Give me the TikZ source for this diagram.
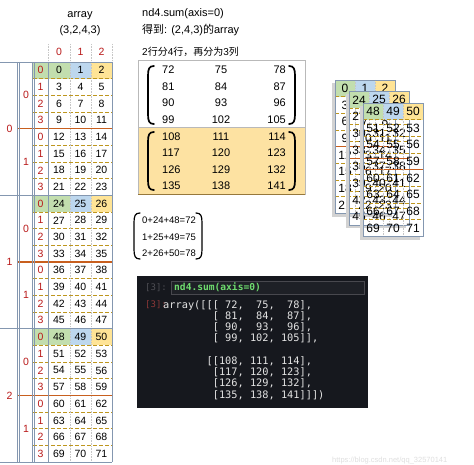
\documentclass[tikz,border=0pt]{standalone}
\usepackage{fontspec}
\setmainfont{Liberation Sans}
\newfontfamily\cjk{Noto Sans CJK SC}
\newfontfamily\codefont{DejaVu Sans Mono}
\usepackage{xcolor}
\usepackage{tikz}

\definecolor{cellgreen}{RGB}{194,222,174}
\definecolor{cellblue}{RGB}{189,215,238}
\definecolor{cellyellow}{RGB}{255,228,150}
\definecolor{idxred}{RGB}{185,25,25}
\definecolor{sepline}{RGB}{200,95,30}
\definecolor{rowline}{RGB}{190,150,30}
\definecolor{frameblue}{RGB}{132,151,176}
\definecolor{boxyellow}{RGB}{253,226,162}
\definecolor{boxline}{RGB}{150,120,60}
\definecolor{codebg}{RGB}{22,24,30}
\definecolor{codecell}{RGB}{30,32,38}
\definecolor{codeedge}{RGB}{72,72,78}
\definecolor{codegreen}{RGB}{110,220,110}
\definecolor{codetext}{RGB}{228,228,228}
\definecolor{promptgray}{RGB}{78,78,84}
\definecolor{promptred}{RGB}{140,55,55}

\tikzset{
  num/.style={inner sep=0pt, font=\fontsize{10.5}{12}\selectfont},
  idx/.style={num, text=idxred},
  bignum/.style={inner sep=0pt, font=\fontsize{12}{14}\selectfont},
  matnum/.style={inner sep=0pt, font=\fontsize{11}{13}\selectfont},
  txt/.style={inner sep=0pt, anchor=base west, font=\fontsize{11}{13}\selectfont},
  frame/.style={draw=frameblue, line width=0.9pt},
  rowsep/.style={draw=rowline, dash pattern=on 4pt off 2pt, line width=1pt},
  blocksep/.style={draw=sepline, line width=1.4pt},
  colsep/.style={draw=gray!45, densely dotted, line width=0.6pt},
  paren/.style={line width=1.7pt, line cap=round},
  codeout/.style={anchor=north west, inner sep=0pt, align=left, text=codetext,
    font=\codefont\fontsize{10.3}{11.25}\selectfont},
}

% one row of the left table: row, index, three values
\newcommand{\arow}[5]{%
  \node[idx] (i#1) at (40.5,{62+(#1+0.5)*16.67}) {#2};
  \node[num] (a#1) at (59,{62+(#1+0.5)*16.67}) {#3};
  \node[num] (b#1) at (80.5,{62+(#1+0.5)*16.67}) {#4};
  \node[num] (c#1) at (101.5,{62+(#1+0.5)*16.67}) {#5};}
\newcommand{\hilite}[1]{%
  \fill[cellgreen] (33,{62+#1*16.67}) rectangle (70,{62+(#1+1)*16.67});
  \fill[cellblue] (70,{62+#1*16.67}) rectangle (91,{62+(#1+1)*16.67});
  \fill[cellyellow] (91,{62+#1*16.67}) rectangle (112,{62+(#1+1)*16.67});}
\newcommand{\subblock}[1]{%
  \draw[rowsep] (33,{62+(#1+1)*16.67}) -- (112,{62+(#1+1)*16.67});
  \draw[rowsep] (33,{62+(#1+2)*16.67}) -- (112,{62+(#1+2)*16.67});
  \draw[rowsep] (33,{62+(#1+3)*16.67}) -- (112,{62+(#1+3)*16.67});}
% matrix row: name, y, three values
\newcommand{\mrow}[5]{%
  \node[matnum, anchor=west] (#1a) at (162,#2) {#3};
  \node[matnum] (#1b) at (221,#2) {#4};
  \node[matnum, anchor=east] (#1c) at (286,#2) {#5};}
\newcommand{\lpar}[3]{\draw[paren] ({#1+6},#2) .. controls ({#1+1},#2) and (#1,{#2+3}) .. (#1,{#2+10}) -- (#1,{#3-10}) .. controls (#1,{#3-3}) and ({#1+1},#3) .. ({#1+6},#3);}
\newcommand{\rpar}[3]{\draw[paren] ({#1-6},#2) .. controls ({#1-1},#2) and (#1,{#2+3}) .. (#1,{#2+10}) -- (#1,{#3-10}) .. controls (#1,{#3-3}) and ({#1-1},#3) .. ({#1-6},#3);}
% stacked table: x, y of its top left corner
\newcommand{\stable}[2]{%
  \fill[gray!35] ({#1-3},{#2+3}) rectangle (#1,{#2+136.6});
  \fill[gray!35] ({#1-3},{#2+133.6}) rectangle ({#1+57},{#2+136.6});
  \fill[cellgreen] (#1,#2) rectangle ({#1+20},{#2+16.7});
  \fill[cellblue] ({#1+20},#2) rectangle ({#1+40},{#2+16.7});
  \fill[cellyellow] ({#1+40},#2) rectangle ({#1+60},{#2+16.7});
  \draw[rowsep] (#1,{#2+16.7}) -- ({#1+60},{#2+16.7});
  \draw[rowsep] (#1,{#2+33.4}) -- ({#1+60},{#2+33.4});
  \draw[rowsep] (#1,{#2+50.1}) -- ({#1+60},{#2+50.1});
  \draw[rowsep] (#1,{#2+83.5}) -- ({#1+60},{#2+83.5});
  \draw[rowsep] (#1,{#2+100.2}) -- ({#1+60},{#2+100.2});
  \draw[rowsep] (#1,{#2+116.9}) -- ({#1+60},{#2+116.9});
  \draw[blocksep] (#1,{#2+66.8}) -- ({#1+60},{#2+66.8});
  \draw[colsep] ({#1+20},#2) -- ({#1+20},{#2+133.6});
  \draw[colsep] ({#1+40},#2) -- ({#1+40},{#2+133.6});
  \draw[frame] (#1,#2) rectangle ({#1+60},{#2+133.6});}
% stacked table row: name, x, y, row, three values
\newcommand{\srow}[7]{%
  \node[bignum] (#1r#4a) at ({#2+10},{#3+(#4+0.5)*16.7}) {#5};
  \node[bignum] (#1r#4b) at ({#2+30},{#3+(#4+0.5)*16.7}) {#6};
  \node[bignum] (#1r#4c) at ({#2+50},{#3+(#4+0.5)*16.7}) {#7};}

\begin{document}
\begin{tikzpicture}[x=1pt,y=-1pt]
\useasboundingbox (0,0) rectangle (474,465);
\fill[white] (0,0) rectangle (474,465);

% left table
\node[txt, anchor=base] (ttl) at (80,18) {array};
\node[txt, anchor=base] (shp) at (80,34) {(3,2,4,3)};
\draw[colsep] (48,44) -- (48,62);
\draw[colsep] (70,44) -- (70,62);
\draw[colsep] (91,44) -- (91,62);
\draw[colsep] (112,44) -- (112,62);
\node[idx] (h0) at (59,52) {0};
\node[idx] (h1) at (80.5,52) {1};
\node[idx] (h2) at (101.5,52) {2};

\hilite{0}
\hilite{8}
\hilite{16}
\subblock{0}
\subblock{4}
\subblock{8}
\subblock{12}
\subblock{16}
\subblock{20}
\draw[colsep] (70,62) -- (70,462);
\draw[colsep] (91,62) -- (91,462);
\draw[blocksep] (17,128.68) -- (112,128.68);
\draw[blocksep] (17,262.04) -- (112,262.04);
\draw[blocksep] (17,395.4) -- (112,395.4);
\draw[frame] (0,62) -- (112,62);
\draw[frame] (0,195.36) -- (112,195.36);
\draw[frame] (0,328.72) -- (112,328.72);
\draw[frame] (0,462) -- (112,462);
\draw[frame] (17,62) -- (17,462);
\draw[frame] (19.5,62) -- (19.5,462);
\draw[frame] (32,62) -- (32,462);
\draw[frame] (34,62) -- (34,462);
\draw[frame] (48,62) -- (48,462);
\draw[frame] (112,62) -- (112,462);

\node[idx] (ax0) at (9.5,128.68) {0};
\node[idx] (ax1) at (9.5,262.04) {1};
\node[idx] (ax2) at (9.5,395.4) {2};
\node[idx] (bx0) at (26,95.34) {0};
\node[idx] (bx1) at (26,162.02) {1};
\node[idx] (bx2) at (26,228.7) {0};
\node[idx] (bx3) at (26,295.38) {1};
\node[idx] (bx4) at (26,362.06) {0};
\node[idx] (bx5) at (26,428.74) {1};

\arow{0}{0}{0}{1}{2}
\arow{1}{1}{3}{4}{5}
\arow{2}{2}{6}{7}{8}
\arow{3}{3}{9}{10}{11}
\arow{4}{0}{12}{13}{14}
\arow{5}{1}{15}{16}{17}
\arow{6}{2}{18}{19}{20}
\arow{7}{3}{21}{22}{23}
\arow{8}{0}{24}{25}{26}
\arow{9}{1}{27}{28}{29}
\arow{10}{2}{30}{31}{32}
\arow{11}{3}{33}{34}{35}
\arow{12}{0}{36}{37}{38}
\arow{13}{1}{39}{40}{41}
\arow{14}{2}{42}{43}{44}
\arow{15}{3}{45}{46}{47}
\arow{16}{0}{48}{49}{50}
\arow{17}{1}{51}{52}{53}
\arow{18}{2}{54}{55}{56}
\arow{19}{3}{57}{58}{59}
\arow{20}{0}{60}{61}{62}
\arow{21}{1}{63}{64}{65}
\arow{22}{2}{66}{67}{68}
\arow{23}{3}{69}{70}{71}

% result matrix
\node[txt] (cmd) at (142,17) {nd4.sum(axis=0)};
\node[txt] (res) at (142,34) {{\cjk 得到}: (2,4,3){\cjk 的}array};
\node[txt, font=\fontsize{10}{12}\selectfont] (note) at (142,56) {2{\cjk 行分}4{\cjk 行，再分为}3{\cjk 列}};
\draw[draw=gray!55, line width=1pt] (138,61) rectangle (305,128);
\filldraw[fill=boxyellow, draw=gray!55, line width=1pt] (138,128) rectangle (305,195);
\draw[boxline, line width=1pt] (138,195) -- (305,195);
\mrow{m0}{70}{72}{75}{78}
\mrow{m1}{86.5}{81}{84}{87}
\mrow{m2}{103}{90}{93}{96}
\mrow{m3}{119.5}{99}{102}{105}
\mrow{m4}{136.5}{108}{111}{114}
\mrow{m5}{153}{117}{120}{123}
\mrow{m6}{169.5}{126}{129}{132}
\mrow{m7}{186}{135}{138}{141}
\lpar{148}{66}{124}
\rpar{295}{66}{124}
\lpar{148}{132}{190}
\rpar{295}{132}{190}

% the sums
\node[txt, anchor=west, font=\fontsize{9.5}{11}\selectfont] (s0) at (142,220) {0+24+48=72};
\node[txt, anchor=west, font=\fontsize{9.5}{11}\selectfont] (s1) at (142,237) {1+25+49=75};
\node[txt, anchor=west, font=\fontsize{9.5}{11}\selectfont] (s2) at (142,253) {2+26+50=78};
\begin{scope}[paren/.style={line width=1.2pt, line cap=round}]
\lpar{134}{213}{259}
\rpar{202}{213}{259}
\end{scope}

% notebook cell
\fill[codebg] (137,276) rectangle (368,408);
\filldraw[fill=codecell, draw=codeedge, line width=0.8pt] (171,281) rectangle (364,294);
\node[anchor=west, inner sep=0pt, text=promptgray, font=\codefont\fontsize{9}{11}\selectfont] (pin) at (145,287.5) {[3]:};
\node[anchor=west, inner sep=0pt, text=codegreen, font=\codefont\bfseries\fontsize{9.6}{11}\selectfont] (cin) at (174,287.5) {nd4.sum(axis=0)};
\node[anchor=west, inner sep=0pt, text=promptred, font=\codefont\fontsize{9}{11}\selectfont] (pout) at (145,305) {[3]:};
\node[codeout] (cout) at (163,300) {array([[[~72,~~75,~~78],\\
\hphantom{array([[}[~81,~~84,~~87],\\
\hphantom{array([[}[~90,~~93,~~96],\\
\hphantom{array([[}[~99,~102,~105]],\\
\mbox{}\\
\hphantom{array([}[[108,~111,~114],\\
\hphantom{array([[}[117,~120,~123],\\
\hphantom{array([[}[126,~129,~132],\\
\hphantom{array([[}[135,~138,~141]]])};

% stacked tables
\stable{335}{80}
\srow{t}{335}{80}{0}{0}{1}{2}
\srow{t}{335}{80}{1}{3}{4}{5}
\srow{t}{335}{80}{2}{6}{7}{8}
\srow{t}{335}{80}{3}{9}{10}{11}
\srow{t}{335}{80}{4}{12}{13}{14}
\srow{t}{335}{80}{5}{15}{16}{17}
\srow{t}{335}{80}{6}{18}{19}{20}
\srow{t}{335}{80}{7}{21}{22}{23}
\stable{349}{91.5}
\srow{u}{349}{91.5}{0}{24}{25}{26}
\srow{u}{349}{91.5}{1}{27}{28}{29}
\srow{u}{349}{91.5}{2}{30}{31}{32}
\srow{u}{349}{91.5}{3}{33}{34}{35}
\srow{u}{349}{91.5}{4}{36}{37}{38}
\srow{u}{349}{91.5}{5}{39}{40}{41}
\srow{u}{349}{91.5}{6}{42}{43}{44}
\srow{u}{349}{91.5}{7}{45}{46}{47}
\stable{363}{103}
\srow{v}{363}{103}{0}{48}{49}{50}
\srow{v}{363}{103}{1}{51}{52}{53}
\srow{v}{363}{103}{2}{54}{55}{56}
\srow{v}{363}{103}{3}{57}{58}{59}
\srow{v}{363}{103}{4}{60}{61}{62}
\srow{v}{363}{103}{5}{63}{64}{65}
\srow{v}{363}{103}{6}{66}{67}{68}
\srow{v}{363}{103}{7}{69}{70}{71}

\node[anchor=west, inner sep=0pt, text=gray!25, font=\fontsize{7.5}{9}\selectfont] (mark) at (332,461) {https://blog.csdn.net/qq\_32570141};
\end{tikzpicture}
\end{document}
